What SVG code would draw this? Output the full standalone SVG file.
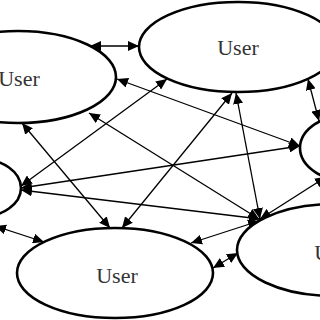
<svg xmlns="http://www.w3.org/2000/svg" width="320" height="320" viewBox="0 0 320 320">
  <style>
    .node { fill: #ffffff; stroke: #000000; stroke-width: 2.6; }
    .label { font-family: "Liberation Serif", "Times New Roman", serif; font-size: 22px; fill: #333333; text-anchor: middle; }
    .edge { stroke: #000000; stroke-width: 1.3; fill: none; marker-start: url(#arrow); marker-end: url(#arrow); }
  </style>
  <defs>
    <marker id="arrow" markerUnits="userSpaceOnUse" markerWidth="11" markerHeight="10" refX="11" refY="5" orient="auto-start-reverse" viewBox="0 0 11 10">
      <path d="M0,0 L11,5 L0,10 z" fill="#000000"/>
    </marker>
  </defs>
  <rect width="320" height="320" fill="#ffffff"/>
  <g id="connectors">
    <line class="edge" x1="90" y1="46" x2="139" y2="46"/>
    <line class="edge" x1="117" y1="79" x2="300" y2="146"/>
    <line class="edge" x1="89" y1="113" x2="259" y2="219"/>
    <line class="edge" x1="236" y1="93" x2="260" y2="219"/>
    <line class="edge" x1="232" y1="93" x2="122" y2="228"/>
    <line class="edge" x1="22" y1="123" x2="110" y2="228"/>
    <line class="edge" x1="21" y1="186" x2="167" y2="79"/>
    <line class="edge" x1="21" y1="188" x2="300" y2="146"/>
    <line class="edge" x1="21" y1="190" x2="260" y2="219"/>
    <line class="edge" x1="260" y1="219" x2="326" y2="177"/>
    <line class="edge" x1="259" y1="221" x2="191" y2="243"/>
    <line class="edge" x1="213" y1="268" x2="238" y2="253"/>
    <line class="edge" x1="-5" y1="226" x2="44" y2="242"/>
    <line class="edge" x1="319" y1="121" x2="308" y2="79"/>
  </g>
  <g id="node1">
    <ellipse class="node" cx="18" cy="77" rx="98" ry="46"/>
    <text class="label" x="19" y="86">User</text>
  </g>
  <g id="node2">
    <ellipse class="node" cx="238" cy="47" rx="99" ry="45"/>
    <text class="label" x="238" y="55">User</text>
  </g>
  <g id="node3">
    <ellipse class="node" cx="352" cy="148" rx="52" ry="34"/>
  </g>
  <g id="node4">
    <ellipse class="node" cx="-20" cy="188" rx="41" ry="29"/>
  </g>
  <g id="node5">
    <ellipse class="node" cx="115" cy="273" rx="98" ry="45"/>
    <text class="label" x="117" y="283">User</text>
  </g>
  <g id="node6">
    <ellipse class="node" cx="334" cy="250" rx="97" ry="46"/>
    <text class="label" x="335" y="260">User</text>
  </g>
</svg>
